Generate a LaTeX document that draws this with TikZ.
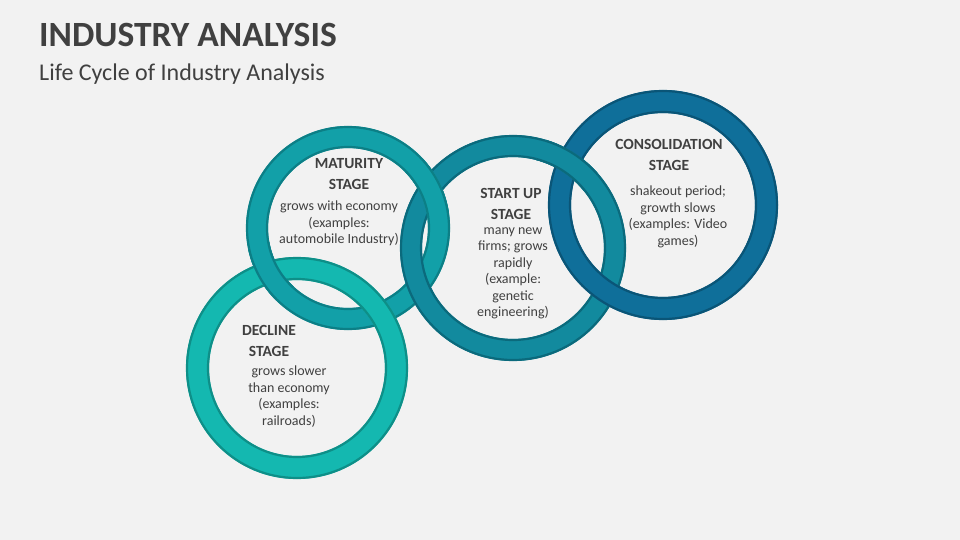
\documentclass[tikz,border=0pt]{standalone}
\usepackage{fontspec}
\setmainfont{Carlito}
\begin{document}
\begin{tikzpicture}[x=1pt,y=-1pt,
  txt/.style={text=black!75,align=center,inner sep=0pt,font=\fontsize{14}{16.5}\selectfont},
  hd/.style={text=black!75,align=center,inner sep=0pt,font=\bfseries\fontsize{15.5}{21}\selectfont}]
\definecolor{cDec}{HTML}{14B8B0}\definecolor{eDec}{HTML}{0E8F88}
\definecolor{cMat}{HTML}{12A0A8}\definecolor{eMat}{HTML}{0C7F86}
\definecolor{cSta}{HTML}{128A9E}\definecolor{eSta}{HTML}{0B6A7C}
\definecolor{cCon}{HTML}{0F6F9A}\definecolor{eCon}{HTML}{0A5577}
\fill[black!5] (0,0) rectangle (960,540);
\useasboundingbox (0,0) rectangle (960,540);
\newcommand{\myring}[6]{%
  \fill[#5,even odd rule] (#1,#2) circle[radius=#3] (#1,#2) circle[radius=#4];
  \draw[#6,line width=2.2] (#1,#2) circle[radius=#3-1] (#1,#2) circle[radius=#4+1];}
\newcommand{\ringMat}{\myring{348}{228}{102}{80}{cMat}{eMat}}
\newcommand{\ringSta}{\myring{513}{248}{113}{91}{cSta}{eSta}}
% maturity, decline over it
\ringMat
\myring{297}{368}{111}{88}{cDec}{eDec}
\begin{scope}\clip (268,272) circle[radius=30]; \ringMat\end{scope}
% startup over maturity
\ringSta
\begin{scope}\clip (431,188) circle[radius=30]; \ringMat\end{scope}
% consolidation over startup
\myring{663}{205}{115}{92}{cCon}{eCon}
\begin{scope}\clip (568,163) circle[radius=32]; \ringSta\end{scope}
% titles
\node[anchor=west,inner sep=0pt,text=black!75,font=\bfseries\fontsize{35.5}{40}\selectfont] (title) at (39,35) {INDUSTRY ANALYSIS};
\node[anchor=west,inner sep=0pt,text=black!75,font=\fontsize{24}{28}\selectfont] (sub) at (39,74) {Life Cycle of Industry Analysis};
% texts
\node[hd,anchor=north] (mh) at (349,158) {MATURITY\\STAGE};
\node[txt,anchor=north] (mb) at (339,201) {grows with economy\\(examples:\\automobile Industry)};
\node[hd,anchor=north] (dh) at (269,325) {DECLINE\\STAGE};
\node[txt,anchor=north] (db) at (289,366) {grows slower\\than economy\\(examples:\\railroads)};
\node[hd,anchor=north] (sh) at (511,188) {START UP\\STAGE};
\node[txt,anchor=north] (sb) at (513,227) {many new\\firms; grows\\rapidly\\(example:\\genetic\\engineering)};
\node[hd,anchor=north] (ch) at (669,139) {CONSOLIDATION\\STAGE};
\node[txt,anchor=north] (cb) at (678,186) {shakeout period;\\growth slows\\(examples: Video\\games)};
\end{tikzpicture}
\end{document}
